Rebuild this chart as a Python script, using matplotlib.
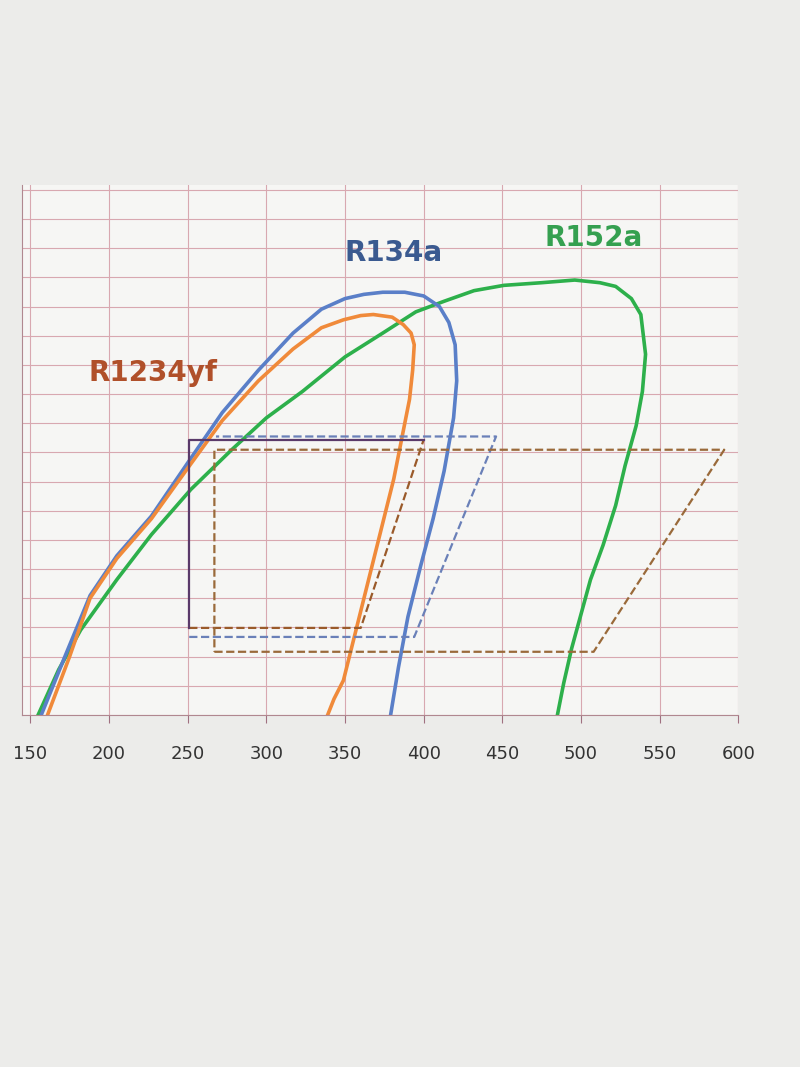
import matplotlib
matplotlib.use("Agg")
import matplotlib.pyplot as plt

# Saturation domes (enthalpy, pressure-ish units)
r1234yf_h = [161, 175, 188, 205, 227, 250, 272, 295, 317, 335, 349, 360, 368, 380, 387, 392, 394, 393, 391, 386, 381, 373, 365, 357, 349, 343, 339]
r1234yf_p = [0.0, 1.1, 2.2, 2.95, 3.7, 4.65, 5.55, 6.3, 6.9, 7.3, 7.45, 7.53, 7.55, 7.5, 7.36, 7.2, 6.98, 6.5, 5.95, 5.2, 4.45, 3.5, 2.55, 1.6, 0.65, 0.3, 0.0]
r134a_h = [157, 172, 188, 205, 227, 250, 272, 295, 317, 335, 350, 362, 374, 388, 400, 410, 416, 420, 421, 419, 413, 406, 398, 390, 384, 379]
r134a_p = [0.0, 1.1, 2.25, 3.0, 3.75, 4.75, 5.7, 6.5, 7.2, 7.65, 7.85, 7.93, 7.97, 7.97, 7.9, 7.7, 7.4, 6.98, 6.3, 5.6, 4.6, 3.7, 2.8, 1.85, 0.9, 0.0]
r152a_h = [155, 168, 182, 205, 227, 252, 278, 300, 323, 350, 374, 395, 413, 432, 451, 475, 496, 512, 522, 532, 538, 541, 539, 535, 528, 522, 514, 506, 500, 494, 489, 485]
r152a_p = [0.0, 0.85, 1.6, 2.55, 3.4, 4.25, 5.0, 5.6, 6.1, 6.75, 7.2, 7.6, 7.8, 8.0, 8.1, 8.15, 8.2, 8.15, 8.08, 7.85, 7.55, 6.8, 6.1, 5.45, 4.7, 3.95, 3.2, 2.55, 1.9, 1.25, 0.6, 0.0]

# Cycles (h, p) corners
cyc_yf_h = [251, 360, 400, 251, 251]
cyc_yf_p = [1.64, 1.64, 5.19, 5.19, 1.64]
cyc_134_h = [251, 394, 446, 268]
cyc_134_p = [1.47, 1.47, 5.25, 5.25]
cyc_152_h = [267, 508, 591, 267, 267]
cyc_152_p = [1.19, 1.19, 5.0, 5.0, 1.19]

xticks = [150, 200, 250, 300, 350, 400, 450, 500, 550, 600]

fig = plt.figure(figsize=(8, 10.67), dpi=100)
fig.patch.set_facecolor("#ececea")
ax = fig.add_axes([0.028, 0.33, 0.895, 0.497])
ax.set_facecolor("#f6f6f4")
ax.set_xlim(145, 600)
ax.set_ylim(0, 10)
ax.set_xticks(xticks)
ax.set_xticklabels([str(t) for t in xticks], fontsize=13, color="#333333")
ax.set_yticks([i * 0.55 for i in range(19)])
ax.set_yticklabels([])
ax.tick_params(axis="y", length=0)
ax.tick_params(axis="x", length=6, color="#a07080", pad=16)
ax.grid(True, color="#d8a8b0", linewidth=0.8)
for s in ax.spines.values():
    s.set_color("#b08890")
ax.spines["top"].set_visible(False)
ax.spines["right"].set_visible(False)

ax.plot(r152a_h, r152a_p, color="#2db04b", lw=2.6)
ax.plot(r134a_h, r134a_p, color="#5a7fc8", lw=2.6)
ax.plot(r1234yf_h, r1234yf_p, color="#f08a3a", lw=2.6)

ax.plot(cyc_yf_h[:3], cyc_yf_p[:3], color="#9a5a2a", lw=1.6, ls="--")
ax.plot(cyc_yf_h[2:], cyc_yf_p[2:], color="#5a3a6a", lw=1.6)
ax.plot(cyc_134_h, cyc_134_p, color="#6a80b8", lw=1.6, ls="--")
ax.plot(cyc_152_h, cyc_152_p, color="#9a6a3a", lw=1.6, ls="--")

ax.text(350, 8.55, "R134a", color="#3a5a90", fontsize=20, fontweight="bold")
ax.text(477, 8.85, "R152a", color="#35a050", fontsize=20, fontweight="bold")
ax.text(187, 6.3, "R1234yf", color="#b0502a", fontsize=20, fontweight="bold")

fig.savefig("out.png", dpi=100, facecolor=fig.get_facecolor())
